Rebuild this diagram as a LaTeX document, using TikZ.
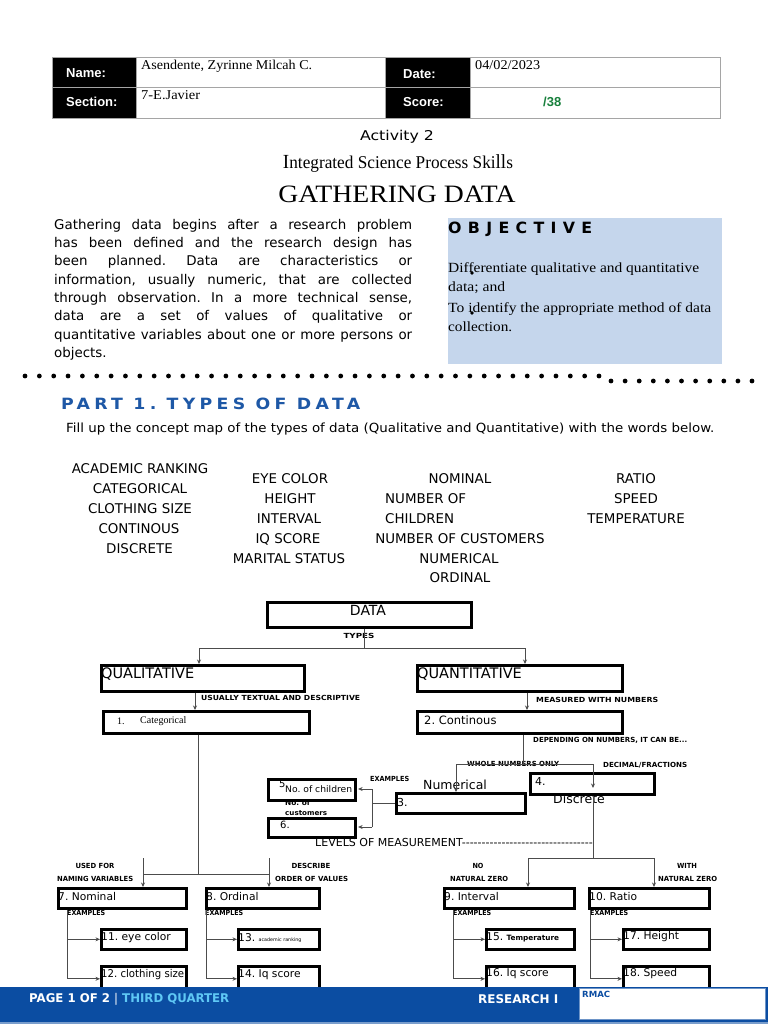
\documentclass[tikz,border=0pt]{standalone}
\usepackage{fontspec}
\usepackage{graphicx}
\usetikzlibrary{arrows.meta}
\setmainfont{Liberation Serif}
\newfontfamily\dvs{DejaVu Sans}
\newfontfamily\dvsls[LetterSpace=40]{DejaVu Sans}
\newfontfamily\dvslp[LetterSpace=25]{DejaVu Sans}
\newfontfamily\lsans{Liberation Sans}
\newcommand{\fsz}[1]{\fontsize{#1}{#1}\selectfont}
\newcommand{\fitw}[2]{\resizebox{#1}{\height}{#2}}
\newcommand{\smlab}[2]{\fitw{#1pt}{\dvs\bfseries\fsz{7}#2}}
\definecolor{objblue}{RGB}{197,214,236}
\definecolor{partblue}{RGB}{30,88,166}
\definecolor{fblue}{RGB}{11,77,162}
\definecolor{cyanb}{RGB}{95,200,245}
\definecolor{scoreg}{RGB}{24,128,60}
\definecolor{tgray}{RGB}{165,165,165}
\frenchspacing
\begin{document}
\begin{tikzpicture}[x=1pt,y=-1pt,
  tx/.style={inner sep=0pt, anchor=west},
  tb/.style={inner sep=0pt, anchor=base west},
  tcn/.style={inner sep=0pt, anchor=center},
  bx/.style={draw=black, line width=2.6pt, inner sep=0pt, anchor=north west},
  ln/.style={draw=black!70, line width=0.9pt},
  ar/.style={ln, -{Stealth[length=4.5pt,width=4pt]}},
  wl/.style={inner sep=0pt, anchor=center, font=\dvs\fsz{13.4}},
  wll/.style={inner sep=0pt, anchor=west, font=\dvs\fsz{13.4}},
]
\useasboundingbox (0,0) rectangle (768,1024);
\fill[white] (0,0) rectangle (768,1024);

% ---------- header table ----------
\fill[black] (52,58) rectangle (136,87);
\fill[black] (52,88) rectangle (136,118);
\fill[black] (386,58) rectangle (470,87);
\fill[black] (386,88) rectangle (470,118);
\draw[tgray, line width=1pt] (52,57.5) rectangle (720.5,118.5);
\draw[tgray, line width=1pt] (52,87.5) -- (720.5,87.5);
\draw[tgray, line width=1pt] (136,57.5) -- (136,118.5);
\draw[tgray, line width=1pt] (385.5,57.5) -- (385.5,118.5);
\draw[tgray, line width=1pt] (470.5,57.5) -- (470.5,118.5);
\node[tx] (nm) at (66,73) {\lsans\bfseries\fsz{13}\color{white}Name:};
\node[tx] (sc) at (66,102) {\lsans\bfseries\fsz{13}\color{white}Section:};
\node[tx] (dt) at (403,74) {\lsans\bfseries\fsz{13}\color{white}Date:};
\node[tx] (sr) at (403,102) {\lsans\bfseries\fsz{13}\color{white}Score:};
\node[tb] (nmv) at (141,70) {\fitw{171pt}{\fsz{13.5}Asendente, Zyrinne Milcah C.}};
\node[tb] (dtv) at (475,70) {\fitw{65pt}{\fsz{13.5}04/02/2023}};
\node[tb] (scv) at (141,100) {\fitw{59pt}{\fsz{13.5}7-E.Javier}};
\node[tx] (srv) at (543,102) {\lsans\bfseries\fsz{13}\color{scoreg}/38};

% ---------- titles ----------
\node[tcn] (act) at (397,137) {\fitw{74pt}{\dvs\fsz{13.5}Activity 2}};
\node[tb, anchor=base] (isp) at (398,169) {\fitw{230pt}{\fsz{18}{\fsz{20}I}ntegrated Science Process Ski{\fsz{20}ll}s}};
\node[tb, anchor=base] (gd) at (397,203) {\fitw{237pt}{\fsz{25}GATHERING DATA}};

% ---------- paragraph ----------
\node[anchor=north west, inner sep=0pt, text width=358pt, align=justify,
      font=\dvs\fontsize{13.4}{18.3}\selectfont\frenchspacing] (para) at (54,219)
 {Gathering data begins after a research problem\linebreak
  has been defined and the research design has\linebreak
  been planned. Data are characteristics or\linebreak
  information, usually numeric, that are collected\linebreak
  through observation. In a more technical sense,\linebreak
  data are a set of values of qualitative or\linebreak
  quantitative variables about one or more persons or\linebreak
  objects.};

% ---------- objective ----------
\fill[objblue] (448,218) rectangle (722,364);
\node[tx] (obj) at (448,229) {\fitw{144pt}{\dvsls\bfseries\fsz{15.5}OBJECTIVE}};
\node[tb] (o1) at (448,272) {\fitw{251pt}{\fsz{14}Differentiate qualitative and quantitative}};
\node[tb] (o2) at (448,291) {\fitw{57pt}{\fsz{14}data; and}};
\node[tb] (o3) at (448,312) {\fitw{263pt}{\fsz{14}To identify the appropriate method of data}};
\node[tb] (o4) at (448,331.5) {\fitw{64pt}{\fsz{14}collection.}};
\fill[black] (472,273) circle (1.8pt);
\fill[black] (472,313) circle (1.8pt);

% ---------- dotted rule ----------
\foreach \i in {0,...,40} \fill[black] (25+\i*14.35,376) circle (2.4pt);
\foreach \i in {0,...,10} \fill[black] (611+\i*14.1,381) circle (2.4pt);

% ---------- part 1 ----------
\node[tx] (part) at (61,404) {\fitw{299pt}{\dvslp\bfseries\fsz{15.5}\color{partblue}PART 1. TYPES OF DATA}};
\node[tx] (fill) at (66,429) {\fitw{648pt}{\dvs\fsz{12.6}Fill up the concept map of the types of data (Qualitative and Quantitative) with the words below.}};

% word lists
\node[wl] (w1) at (140,469) {ACADEMIC RANKING};
\node[wl] (w2) at (140,489) {CATEGORICAL};
\node[wl] (w3) at (140,509) {CLOTHING SIZE};
\node[wl] (w4) at (139,529) {CONTINOUS};
\node[wl] (w5) at (139.5,549) {DISCRETE};
\node[wl] (w6) at (290,479) {EYE COLOR};
\node[wl] (w7) at (290,499) {HEIGHT};
\node[wl] (w8) at (289,519) {INTERVAL};
\node[wl] (w9) at (288,539) {IQ SCORE};
\node[wl] (w10) at (289,559) {MARITAL STATUS};
\node[wl] (w11) at (460,479) {NOMINAL};
\node[wll] (w12) at (385,499) {NUMBER OF};
\node[wll] (w13) at (385,519) {CHILDREN};
\node[wl] (w14) at (460,539) {NUMBER OF CUSTOMERS};
\node[wl] (w15) at (459,559) {NUMERICAL};
\node[wl] (w16) at (460,578) {ORDINAL};
\node[wl] (w17) at (636,479) {RATIO};
\node[wl] (w18) at (636,499) {SPEED};
\node[wl] (w19) at (636,519) {TEMPERATURE};

% ---------- concept map boxes ----------
\node[bx, minimum width=204pt, minimum height=25pt] (data) at (266,601) {};
\node[bx, minimum width=203pt, minimum height=26pt] (qual) at (100,664) {};
\node[bx, minimum width=205pt, minimum height=26pt] (quan) at (416,664) {};
\node[bx, minimum width=206pt, minimum height=22pt] (cat) at (102,710) {};
\node[bx, minimum width=205pt, minimum height=22pt] (cont) at (416,710) {};
\node[bx, minimum width=124pt, minimum height=21pt] (b4) at (529,772) {};
\node[bx, minimum width=129pt, minimum height=20pt] (b3) at (395,792) {};
\node[bx, minimum width=87pt, minimum height=21pt] (b5) at (267,778) {};
\node[bx, minimum width=87pt, minimum height=19pt] (b6) at (267,817) {};
\node[bx, minimum width=128pt, minimum height=20pt] (nom) at (57,887) {};
\node[bx, minimum width=113pt, minimum height=20pt] (ord) at (205,887) {};
\node[bx, minimum width=130pt, minimum height=20pt] (int) at (443,887) {};
\node[bx, minimum width=120pt, minimum height=20pt] (rat) at (588,887) {};
\node[bx, minimum width=85pt, minimum height=20pt] (b11) at (100,928) {};
\node[bx, minimum width=85pt, minimum height=25pt] (b12) at (100,965) {};
\node[bx, minimum width=81pt, minimum height=20pt] (b13) at (237,928) {};
\node[bx, minimum width=81pt, minimum height=25pt] (b14) at (237,965) {};
\node[bx, minimum width=88pt, minimum height=20pt] (b15) at (485,928) {};
\node[bx, minimum width=88pt, minimum height=25pt] (b16) at (485,965) {};
\node[bx, minimum width=86pt, minimum height=20pt] (b17) at (622,928) {};
\node[bx, minimum width=86pt, minimum height=25pt] (b18) at (622,965) {};

% ---------- texts in / near boxes ----------
\node[tcn] (tdata) at (368,610) {\dvs\fsz{14}DATA};
\node[tcn] (ttypes) at (359,636) {\smlab{31}{TYPES}};
\node[tx] (tqual) at (101,674) {\dvs\fsz{14.5}QUALITATIVE};
\node[tx] (tquan) at (417,674) {\dvs\fsz{14.5}QUANTITATIVE};
\node[tx] (tusu) at (201,698) {\smlab{159}{USUALLY TEXTUAL AND DESCRIPTIVE}};
\node[tx] (tmea) at (536,700) {\smlab{122}{MEASURED WITH NUMBERS}};
\node[tx] (tcat1) at (117,721) {\fsz{10}1.};
\node[tx] (tcat2) at (140,721) {\fsz{10}Categorical};
\node[tx] (tcont) at (424,720) {\dvs\fsz{11.5}2. Continous};
\node[tx] (tdep) at (533,740) {\smlab{154}{DEPENDING ON NUMBERS, IT CAN BE...}};
\node[tx] (twho) at (467,764) {\smlab{92}{WHOLE NUMBERS ONLY}};
\node[tx] (tdec) at (603,765) {\smlab{84}{DECIMAL/FRACTIONS}};
\node[tx] (tex0) at (370,779) {\smlab{39}{EXAMPLES}};
\node[tx] (tnum) at (423,785) {\dvs\fsz{12.5}Numerical};
\node[tx] (t3) at (397,802) {\dvs\fsz{11}3.};
\node[tx] (t4) at (535,781) {\dvs\fsz{11}4.};
\node[tx] (tdis) at (553,799) {\dvs\fsz{12.5}Discrete};
\node[tx] (t5) at (279,784) {\dvs\fsz{10}5};
\node[tx] (t5b) at (285,789) {\fitw{67pt}{\dvs\fsz{9}No. of children}};
\node[tx] (tnoc1) at (285,803) {\smlab{25}{No. of}};
\node[tx] (tnoc2) at (285,813) {\smlab{42}{customers}};
\node[tx] (t6) at (280,825) {\dvs\fsz{10}6.};
\node[tx] (tlev) at (315,842) {\dvs\fsz{11}LEVELS OF MEASUREMENT---------------------------------};
\node[tcn] (tused) at (95,866) {\smlab{39}{USED FOR}};
\node[tx] (tnam) at (57,879) {\smlab{76}{NAMING VARIABLES}};
\node[tcn] (tdes) at (311,866) {\smlab{39}{DESCRIBE}};
\node[tx] (tord) at (275,879) {\smlab{73}{ORDER OF VALUES}};
\node[tcn] (tno) at (478,866) {\smlab{11}{NO}};
\node[tx] (tnz1) at (450,879) {\smlab{58}{NATURAL ZERO}};
\node[tcn] (twith) at (687,866) {\smlab{20}{WITH}};
\node[tx] (tnz2) at (658,879) {\smlab{59}{NATURAL ZERO}};
\node[tx] (t7) at (58,896) {\dvs\fsz{10.7}7. Nominal};
\node[tx] (t8) at (206,896) {\dvs\fsz{10.7}8. Ordinal};
\node[tx] (t9) at (444,896) {\dvs\fsz{10.7}9. Interval};
\node[tx] (t10) at (589,896) {\dvs\fsz{10.7}10. Ratio};
\node[tx] (tex1) at (67,913) {\smlab{38}{EXAMPLES}};
\node[tx] (tex2) at (205,913) {\smlab{38}{EXAMPLES}};
\node[tx] (tex3) at (453,913) {\smlab{38}{EXAMPLES}};
\node[tx] (tex4) at (590,913) {\smlab{38}{EXAMPLES}};
\node[tx] (t11) at (101,938) {\dvs\fsz{10.7}11. eye color};
\node[tx] (t12) at (101,975) {\fitw{83pt}{\dvs\fsz{10.7}12. clothing size}};
\node[tx] (t13) at (238,938) {\dvs\fsz{10.7}13. {\fsz{4.8}academic ranking}};
\node[tx] (t14) at (238,975) {\dvs\fsz{10.7}14. Iq score};
\node[tx] (t15) at (486,937) {\dvs\fsz{10.7}15. {\bfseries\fsz{7.3}Temperature}};
\node[tx] (t16) at (486,974) {\dvs\fsz{10.7}16. Iq score};
\node[tx] (t17) at (623,937) {\dvs\fsz{10.7}17. Height};
\node[tx] (t18) at (623,974) {\dvs\fsz{10.7}18. Speed};

% ---------- connectors ----------
\coordinate (jt) at (364,648);
\coordinate (jqa) at (199,648);
\coordinate (jqn) at (525,648);
\draw[ln] (data.south -| jt) -- (jt);
\draw[ln] (jqa) -- (jqn);
\draw[ar] (jqa) -- (qual.north -| jqa);
\draw[ar] (jqn) -- (quan.north -| jqn);
\coordinate (xq) at (195,0);
\coordinate (xn) at (527,0);
\draw[ar] (qual.south -| xq) -- (cat.north -| xq);
\draw[ar] (quan.south -| xn) -- (cont.north -| xn);

\coordinate (jd) at (523,764);
\coordinate (jnum) at (456,764);
\coordinate (jdis) at (593,764);
\coordinate (tipd) at (593,788);
\draw[ln] (cont.south -| jd) -- (jd);
\draw[ln] (jnum) -- (jdis);
\draw[ar] (jnum) -- (b3.north -| jnum);
\draw[ar] (jdis) -- (tipd);
\coordinate (jlv) at (593,858);
\draw[ln] (b4.south -| jdis) -- (jlv);
\coordinate (jint) at (528,858);
\coordinate (jrat) at (654,858);
\draw[ln] (jint) -- (jrat);
\draw[ar] (jint) -- (int.north -| jint);
\draw[ar] (jrat) -- (rat.north -| jrat);

\coordinate (jex) at (372,803);
\coordinate (jex5) at (372,789);
\coordinate (jex6) at (372,827);
\draw[ln] (b3.west |- jex) -- (jex);
\draw[ln] (jex5) -- (jex6);
\draw[ar, shorten >=1.5pt] (jex5) -- (b5.east |- jex5);
\draw[ar, shorten >=1.5pt] (jex6) -- (b6.east |- jex6);

\coordinate (jc) at (198,874);
\coordinate (jnom) at (143,874);
\coordinate (jord) at (269,874);
\coordinate (snom) at (143,858);
\coordinate (sord) at (269,858);
\draw[ln] (cat.south -| jc) -- (jc);
\draw[ln] (jnom) -- (jord);
\draw[ar] (snom) -- (nom.north -| snom);
\draw[ar] (sord) -- (ord.north -| sord);

\coordinate (x1) at (67,0);
\coordinate (x2) at (206,0);
\coordinate (x3) at (453,0);
\coordinate (x4) at (590,0);
\draw[ln] (nom.south -| x1) -- (b12.west -| x1);
\draw[ar] (b11.west -| x1) -- (b11.west);
\draw[ar] (b12.west -| x1) -- (b12.west);
\draw[ln] (ord.south -| x2) -- (b14.west -| x2);
\draw[ar] (b13.west -| x2) -- (b13.west);
\draw[ar] (b14.west -| x2) -- (b14.west);
\draw[ln] (int.south -| x3) -- (b16.west -| x3);
\draw[ar] (b15.west -| x3) -- (b15.west);
\draw[ar] (b16.west -| x3) -- (b16.west);
\draw[ln] (rat.south -| x4) -- (b18.west -| x4);
\draw[ar] (b17.west -| x4) -- (b17.west);
\draw[ar] (b18.west -| x4) -- (b18.west);

% ---------- footer ----------
\fill[fblue] (0,987) rectangle (768,1022);
\fill[fblue!55] (0,1022) rectangle (768,1024);
\draw[fill=white, draw=fblue!60, line width=0.8pt] (579,988) rectangle (765,1019);
\node[tx] (rmac) at (582,994) {\fitw{28pt}{\dvs\bfseries\fsz{8.5}\color{fblue}RMAC}};
\node[tx] (pg) at (29,999) {\fitw{200pt}{\dvs\bfseries\fsz{12}\color{white}PAGE 1 OF 2 {\mdseries|} \color{cyanb}THIRD QUARTER}};
\node[tx] (res) at (478,999) {\fitw{80pt}{\dvs\bfseries\fsz{12}\color{white}RESEARCH I}};
\end{tikzpicture}
\end{document}
